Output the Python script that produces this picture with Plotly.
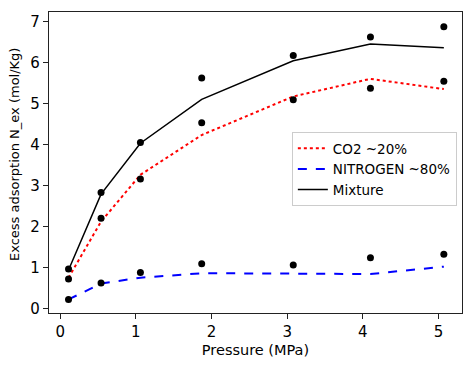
import plotly.graph_objects as go

pressure = [0.11, 0.54, 1.06, 1.87, 3.08, 4.10, 5.07]

# measured points (black dots)
mix_meas = [0.97, 2.84, 4.06, 5.63, 6.18, 6.63, 6.88]
co2_meas = [0.73, 2.21, 3.17, 4.54, 5.10, 5.38, 5.55]
n2_meas = [0.23, 0.63, 0.89, 1.10, 1.07, 1.25, 1.33]

# model lines
co2_line = [0.76, 2.13, 3.27, 4.24, 5.18, 5.61, 5.36]
n2_line = [0.23, 0.62, 0.76, 0.87, 0.86, 0.85, 1.03]
mix_line = [0.95, 2.80, 4.04, 5.11, 6.05, 6.46, 6.37]

x_title = "Pressure (MPa)"
y_title = "Excess adsorption N_ex (mol/Kg)"

font_family = "DejaVu Sans, Arial, sans-serif"

fig = go.Figure()
fig.add_trace(go.Scatter(x=pressure, y=co2_line, mode="lines", name="CO2 ~20%",
                         line=dict(color="#ff0000", dash="dot", width=2)))
fig.add_trace(go.Scatter(x=pressure, y=n2_line, mode="lines", name="NITROGEN ~80%",
                         line=dict(color="#0000ff", dash="dash", width=2)))
fig.add_trace(go.Scatter(x=pressure, y=mix_line, mode="lines", name="Mixture",
                         line=dict(color="black", width=1.5)))
for arr in (mix_meas, co2_meas, n2_meas):
    fig.add_trace(go.Scatter(x=pressure, y=arr, mode="markers", showlegend=False,
                             marker=dict(color="black", size=7)))

axis_common = dict(showgrid=False, zeroline=False, showline=True, linecolor="#222222",
                   linewidth=1.2, mirror=True, ticks="outside", ticklen=5, tickwidth=1,
                   tickcolor="#222222", automargin=False,
                   tickfont=dict(size=15, color="black", family=font_family))

fig.update_layout(
    width=474, height=366,
    margin=dict(l=49, r=12, t=12, b=53),
    paper_bgcolor="white", plot_bgcolor="white",
    font=dict(family=font_family, size=14.5, color="black"),
    xaxis=dict(range=[-0.148, 5.31], tickvals=[0, 1, 2, 3, 4, 5],
               title=dict(text=x_title, font=dict(size=14.5), standoff=4), **axis_common),
    yaxis=dict(range=[-0.1, 7.24], tickvals=[0, 1, 2, 3, 4, 5, 6, 7], **axis_common),
    legend=dict(x=0.588, y=0.601, xanchor="left", yanchor="top",
                bgcolor="white", bordercolor="#cccccc", borderwidth=1,
                font=dict(size=13.5), tracegroupgap=0, itemwidth=30),
    annotations=[dict(text=y_title, xref="paper", yref="paper", x=-0.0823, y=0.525,
                      xanchor="center", yanchor="middle", textangle=-90, showarrow=False,
                      font=dict(size=13, color="black", family=font_family))],
)

fig.write_html("out.html", config={"displayModeBar": False},
               post_script="document.body.style.margin='0';")
